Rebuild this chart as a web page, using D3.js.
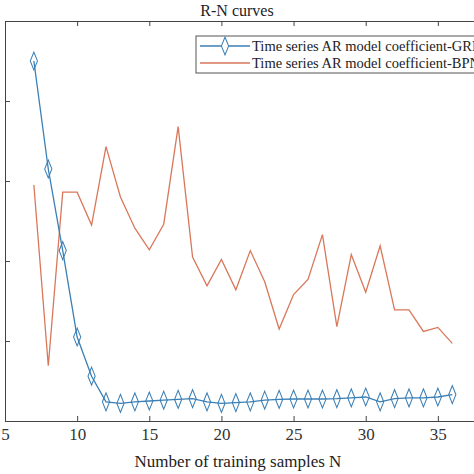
<!DOCTYPE html><html><head><meta charset="utf-8">
<script src="https://cdn.jsdelivr.net/npm/d3@7"></script>
<style>body{margin:0;background:#fff}</style></head><body>
<svg id="c" width="474" height="474"></svg>
<script>
const N = d3.range(7, 37);
const grn = [4.50,3.15,2.13,1.05,0.56,0.24,0.22,0.24,0.25,0.26,0.27,0.28,0.24,0.22,0.23,0.24,0.26,0.27,0.275,0.275,0.275,0.28,0.29,0.30,0.24,0.28,0.29,0.29,0.30,0.33];
const bpn = [2.95,0.69,2.86,2.86,2.45,3.43,2.80,2.41,2.14,2.46,3.68,2.05,1.69,2.02,1.64,2.13,1.74,1.15,1.58,1.77,2.33,1.18,2.08,1.61,2.19,1.39,1.39,1.12,1.17,0.97];
const xTicks = [5,10,15,20,25,30,35];
const yTicks = [0,1,2,3,4,5];
const names = ["Time series AR model coefficient-GRNN","Time series AR model coefficient-BPNN"];

const svg = d3.select("#c");
const font = "Liberation Serif, Times New Roman, serif";
const x = d3.scaleLinear().domain([5,40]).range([5,510]);
const y = d3.scaleLinear().domain([0,5]).range([421,21]);
const blue="#3a7fb5", orange="#d9775a", ax="#444";

svg.append("g").attr("transform","translate(0,421)")
  .call(d3.axisBottom(x).tickValues(xTicks).tickSize(-5).tickPadding(7))
  .call(g=>{g.select(".domain").attr("stroke",ax);g.selectAll("line").attr("stroke",ax);g.selectAll("text").attr("font-family",font).attr("font-size",17).attr("fill","#333");});
svg.append("g").attr("transform","translate(0,21)")
  .call(d3.axisTop(x).tickValues(xTicks).tickSize(-5).tickFormat(""))
  .call(g=>{g.select(".domain").attr("stroke",ax);g.selectAll("line").attr("stroke",ax);});
svg.append("g").attr("transform","translate(5,0)")
  .call(d3.axisLeft(y).tickValues(yTicks).tickSize(-5).tickFormat(""))
  .call(g=>{g.select(".domain").attr("stroke",ax);g.selectAll("line").attr("stroke",ax);});

svg.append("path").datum(bpn).attr("fill","none").attr("stroke",orange).attr("stroke-width",1.3)
  .attr("d",d3.line().x((d,i)=>x(N[i])).y(d=>y(d)));
svg.append("path").datum(grn).attr("fill","none").attr("stroke",blue).attr("stroke-width",1.3)
  .attr("d",d3.line().x((d,i)=>x(N[i])).y(d=>y(d)));
const dia = d3.symbol().type(d3.symbolDiamond).size(70);
svg.selectAll(".m").data(grn).enter().append("path")
  .attr("d",dia).attr("transform",(d,i)=>`translate(${x(N[i])},${y(d)}) scale(0.8,1.15)`)
  .attr("fill","none").attr("stroke",blue).attr("stroke-width",1.2);

svg.append("text").attr("x",237).attr("y",16).attr("text-anchor","middle").attr("font-family",font).attr("font-size",16).attr("fill","#222").text("R-N curves");
svg.append("text").attr("x",238).attr("y",467).attr("text-anchor","middle").attr("font-family",font).attr("font-size",17).attr("fill","#222").text("Number of training samples  N");

const lg = svg.append("g");
lg.append("rect").attr("x",196).attr("y",36).attr("width",300).attr("height",37).attr("fill","#fff").attr("stroke","#555");
[blue,orange].forEach((c,i)=>{
  const yy = 46+i*17;
  lg.append("line").attr("x1",200).attr("x2",250).attr("y1",yy).attr("y2",yy).attr("stroke",c).attr("stroke-width",1.3);
  lg.append("text").attr("x",252).attr("y",yy+5).attr("font-family",font).attr("font-size",14.5).attr("fill","#222").text(names[i]);
});
lg.append("path").attr("d",dia).attr("transform","translate(225,46) scale(0.8,1.15)").attr("fill","#fff").attr("stroke",blue).attr("stroke-width",1.2);
</script></body></html>
